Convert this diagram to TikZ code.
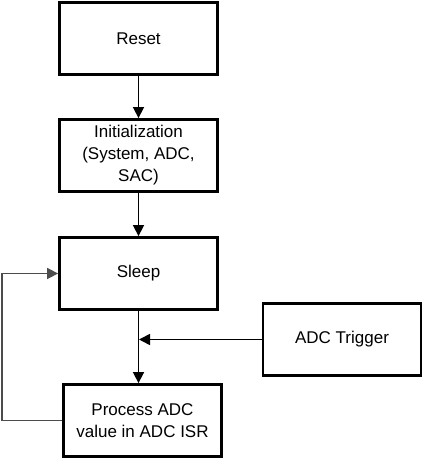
\documentclass[tikz,border=0pt]{standalone}
\usepackage{fontspec}
\setmainfont{Liberation Sans}
\usetikzlibrary{arrows.meta,positioning}

\begin{document}
\begin{tikzpicture}[x=1pt,y=1pt]
        \useasboundingbox (0,0) rectangle (426,462);
        \begin{scope}[every node/.style={draw,line width=2.8pt,minimum width=158pt,minimum height=72pt,inner sep=0pt,align=center,font=\fontsize{17}{22}\selectfont}]
          \node (reset) at (138.5,423.5) {Reset};
          \node (init) at (138.5,306.5) {Initialization\\(System, ADC,\\SAC)};
          \node (sleep) at (138.5,188.5) {Sleep};
          \node (proc) at (142.5,41.5) {Process ADC\\value in ADC ISR};
          \node (trig) at (342,122.5) {ADC Trigger};
        \end{scope}
        \coordinate (join) at (139,122.5);
        \coordinate (fb) at (2,41.5);
        \begin{scope}[every edge/.style={draw=black,line width=1.6pt,-{Triangle[length=11pt,width=11pt]}}]
          \path (reset) edge (init);
          \path (init) edge (sleep);
          \path (sleep.south) edge (sleep.south |- proc.north);
          \path (trig) edge (join);
        \end{scope}
        \draw[line width=1.6pt,draw=black!70,-{Triangle[length=11pt,width=11pt]},draw=black!70] (proc.west) -- (fb) -- (fb |- sleep.west) -- (sleep.west);
      \end{tikzpicture}
\end{document}
